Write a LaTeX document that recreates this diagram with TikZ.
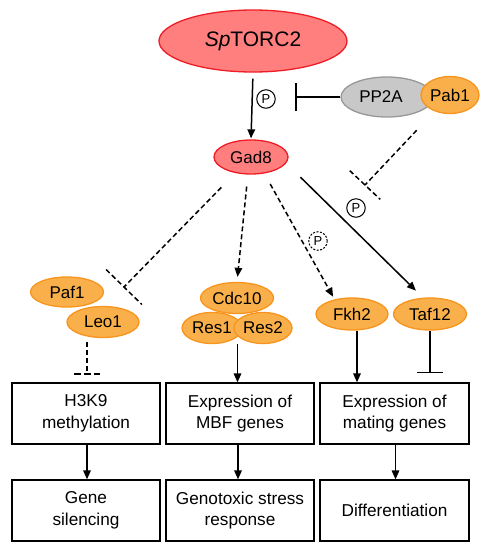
\documentclass[tikz,border=0pt]{standalone}
\usepackage{fontspec}
\setmainfont{Liberation Sans}
\usepackage{tikz}
\usetikzlibrary{shapes.geometric, arrows.meta, calc}
\usepackage{xcolor}
\definecolor{torcfill}{HTML}{FF7F7F}
\definecolor{torcline}{HTML}{EE1C25}
\definecolor{pabfill}{HTML}{FAB04A}
\definecolor{pabline}{HTML}{F7941D}
\definecolor{ppfill}{HTML}{C8C8C8}
\definecolor{ppline}{HTML}{989898}

\begin{document}
\begin{tikzpicture}[x=1pt, y=-1pt,
  prot/.style={draw, ellipse, line width=1.3pt, inner sep=0pt, font=\fontsize{17}{20}\selectfont},
  redprot/.style={prot, fill=torcfill, draw=torcline},
  orangeprot/.style={prot, fill=pabfill, draw=pabline},
  outbox/.style={draw, line width=1.2pt, minimum width=148pt, minimum height=61pt, inner sep=0pt, align=center, font=\fontsize{17.2}{21.5}\selectfont},
  act/.style={line width=1.5pt, -{Triangle[length=9pt, width=7.5pt]}},
  inh/.style={line width=1.5pt, -{Bar[width=28pt]}},
  dashline/.style={line width=1.5pt, dash pattern=on 5pt off 3pt},
  phos/.style={draw, circle, line width=1pt, inner sep=0pt, minimum size=18.5pt, font=\fontsize{13}{13}\selectfont}
]
  \useasboundingbox (0,0) rectangle (489,550);

  % Nodes
  \node[redprot, minimum width=188pt, minimum height=62pt, font=\fontsize{21}{24}\selectfont] (torc) at (253, 41) {\textit{Sp}TORC2};
  \node[redprot, minimum width=74pt, minimum height=34pt] (gad) at (251, 157) {Gad8};
  \node[prot, fill=ppfill, draw=ppline, minimum width=92pt, minimum height=40pt] (pp2a) at (387, 97) {PP2A\hspace*{12pt}};
  \node[orangeprot, minimum width=58pt, minimum height=37pt] (pab) at (450, 95) {Pab1};

  \node[orangeprot, minimum width=73pt, minimum height=30pt] (paf) at (67, 292) {Paf1};
  \node[orangeprot, minimum width=72pt, minimum height=31pt] (leo) at (103, 322) {Leo1};
  \node[orangeprot, minimum width=73pt, minimum height=31pt] (cdc) at (237, 298) {Cdc10};
  \node[orangeprot, minimum width=60pt, minimum height=31pt] (resA) at (212, 328) {Res1};
  \node[orangeprot, minimum width=58pt, minimum height=31pt] (resB) at (263, 328) {Res2};
  \node[orangeprot, minimum width=72pt, minimum height=32pt] (fkh) at (352, 314) {Fkh2};
  \node[orangeprot, minimum width=73pt, minimum height=32pt] (taf) at (430, 314) {Taf12};

  \node[outbox] (hkm) at (86, 413.5) {H3K9\\methylation};
  \node[outbox] (mbf) at (240, 413.5) {Expression of\\MBF genes};
  \node[outbox, minimum width=149pt] (mat) at (394.5, 413.5) {Expression of\\mating genes};
  \node[outbox] (sil) at (86, 510.5) {Gene\\silencing};
  \node[outbox] (gen) at (240, 510.5) {Genotoxic stress\\response};
  \node[outbox, minimum width=149pt] (dif) at (394.5, 510.5) {Differentiation};

  \node[phos] (pA) at (266, 99) {P};
  \node[phos, dash pattern=on 2pt off 1.5pt] (pB) at (318, 241) {P};
  \node[phos] (pC) at (356, 208) {P};

  \coordinate (inhT) at (295, 97);
  \coordinate (inhP) at (365, 185);
  \coordinate (inhL) at (124, 287);
  \coordinate (inhLeo) at (87, 374);
  \coordinate (resJ) at ($(resA.south)!0.5!(resB.south)$);

  % Edges
  \draw[act, shorten <=6pt, shorten >=1pt] (torc.south) -- (gad.north);
  \draw[inh] (pp2a.west) -- (inhT);

  \draw[dashline, shorten <=26pt] (pab) -- (inhP);
  \draw[dashline] ($(inhP)!21pt!90:(pab)$) -- ($(inhP)!21pt!-90:(pab)$);

  \draw[dashline, shorten <=20pt] (gad) -- (inhL);
  \draw[dashline] ($(inhL)!25pt!90:(gad)$) -- ($(inhL)!25pt!-90:(gad)$);

  \draw[act, dashline, shorten <=12pt, shorten >=5pt] (gad.260) -- (cdc.north);
  \draw[act, dashline, shorten <=12pt, shorten >=3pt] (gad.309) -- (fkh.140);
  \draw[act, shorten <=20pt, shorten >=10pt] (gad.350) -- (taf.113);

  \draw[dashline, shorten <=4pt] (inhLeo |- leo.south) -- (inhLeo);
  \draw[line width=1.5pt, dash pattern=on 7pt off 3pt] ([xshift=-13pt]inhLeo) -- ([xshift=13pt]inhLeo);
  \draw[act] (resJ) -- (resJ |- mbf.north);
  \draw[act] ([xshift=5pt]fkh.south) -- ([xshift=5pt]fkh.south |- mat.north);
  \draw[line width=1.5pt, -{Bar[width=26pt]}, shorten >=9pt] (taf.south) -- (taf.south |- mat.north);

  \draw[act] ([xshift=1pt]hkm.south) -- ([xshift=1pt]sil.north);
  \draw[act] ([xshift=-2pt]mbf.south) -- ([xshift=-2pt]gen.north);
  \draw[act] ([xshift=1pt]mat.south) -- ([xshift=1pt]dif.north);
\end{tikzpicture}
\end{document}
